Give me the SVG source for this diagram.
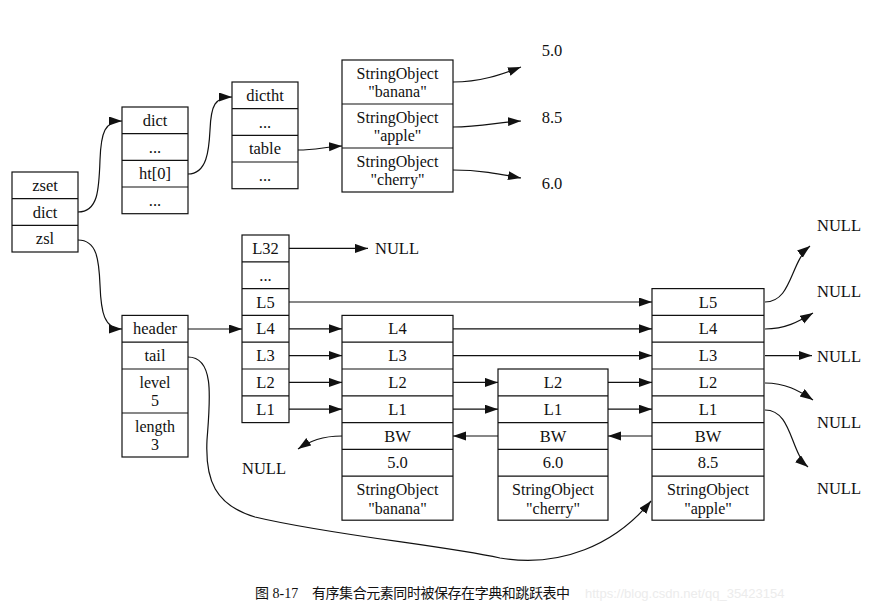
<svg xmlns="http://www.w3.org/2000/svg" width="884" height="601" viewBox="0 0 884 601">
<style>
.b{fill:#fff;stroke:#111;stroke-width:1.2}
text{font-family:"Liberation Serif","Times New Roman",serif;font-size:16.5px;text-anchor:middle;fill:#111}
.t{font-size:16px}
.l{text-anchor:start}
.e{fill:none;stroke:#111;stroke-width:1.2;marker-end:url(#ah)}
.cap{font-family:"Liberation Serif","Noto Sans CJK SC",serif;font-size:14px;text-anchor:start}
</style>
<defs>
<marker id="ah" markerWidth="14" markerHeight="10" refX="13" refY="4.5" orient="auto" markerUnits="userSpaceOnUse"><path d="M0,0 L13,4.5 L0,9 z" fill="#111"/></marker>
</defs>
<rect width="884" height="601" fill="#fff"/>

<g id="zset">
<rect class="b" x="12" y="172" width="66" height="80"/>
<line class="b" x1="12" y1="198.7" x2="78" y2="198.7"/><line class="b" x1="12" y1="225.3" x2="78" y2="225.3"/>
<text x="45" y="191">zset</text><text x="45" y="217.5">dict</text><text x="45" y="244">zsl</text>
</g>

<g id="dict">
<rect class="b" x="122" y="107" width="66" height="106.7"/>
<line class="b" x1="122" y1="133.7" x2="188" y2="133.7"/><line class="b" x1="122" y1="160.3" x2="188" y2="160.3"/><line class="b" x1="122" y1="187" x2="188" y2="187"/>
<text x="155" y="126">dict</text><text x="155" y="152.5">...</text><text x="155" y="179">ht[0]</text><text x="155" y="205.5">...</text>
</g>

<g id="dictht">
<rect class="b" x="232" y="82" width="66" height="106.7"/>
<line class="b" x1="232" y1="108.7" x2="298" y2="108.7"/><line class="b" x1="232" y1="135.3" x2="298" y2="135.3"/><line class="b" x1="232" y1="162" x2="298" y2="162"/>
<text x="265" y="101">dictht</text><text x="265" y="127.5">...</text><text x="265" y="154">table</text><text x="265" y="180.5">...</text>
</g>

<g id="dictEntries">
<rect class="b" x="342" y="60" width="111" height="132"/>
<line class="b" x1="342" y1="104" x2="453" y2="104"/><line class="b" x1="342" y1="148" x2="453" y2="148"/>
<text class="t" x="397.5" y="78.5">StringObject</text><text class="t" x="397.5" y="97">"banana"</text>
<text class="t" x="397.5" y="122.5">StringObject</text><text class="t" x="397.5" y="141">"apple"</text>
<text class="t" x="397.5" y="166.5">StringObject</text><text class="t" x="397.5" y="185">"cherry"</text>
</g>

<g id="scores">
<text x="552" y="56">5.0</text><text x="552" y="123">8.5</text><text x="552" y="189">6.0</text>
</g>

<g id="zskiplist">
<rect class="b" x="122" y="315.4" width="66" height="141.6"/>
<line class="b" x1="122" y1="342.2" x2="188" y2="342.2"/><line class="b" x1="122" y1="369" x2="188" y2="369"/><line class="b" x1="122" y1="413" x2="188" y2="413"/>
<text x="155" y="334.3">header</text><text x="155" y="361">tail</text>
<text class="t" x="155" y="387.5">level</text><text class="t" x="155" y="406">5</text>
<text class="t" x="155" y="431.5">length</text><text class="t" x="155" y="450">3</text>
</g>

<g id="headerNode">
<rect class="b" x="242" y="235" width="47" height="187.6"/>
<line class="b" x1="242" y1="261.8" x2="289" y2="261.8"/><line class="b" x1="242" y1="288.6" x2="289" y2="288.6"/><line class="b" x1="242" y1="315.4" x2="289" y2="315.4"/><line class="b" x1="242" y1="342.2" x2="289" y2="342.2"/><line class="b" x1="242" y1="369" x2="289" y2="369"/><line class="b" x1="242" y1="395.8" x2="289" y2="395.8"/>
<text x="265.5" y="254">L32</text><text x="265.5" y="280.5">...</text><text x="265.5" y="307.5">L5</text><text x="265.5" y="334.3">L4</text><text x="265.5" y="361">L3</text><text x="265.5" y="388">L2</text><text x="265.5" y="414.7">L1</text>
</g>

<g id="nodeBanana">
<rect class="b" x="342" y="315.4" width="111" height="204.8"/>
<line class="b" x1="342" y1="342.2" x2="453" y2="342.2"/><line class="b" x1="342" y1="369" x2="453" y2="369"/><line class="b" x1="342" y1="395.8" x2="453" y2="395.8"/><line class="b" x1="342" y1="422.6" x2="453" y2="422.6"/><line class="b" x1="342" y1="449.4" x2="453" y2="449.4"/><line class="b" x1="342" y1="476.2" x2="453" y2="476.2"/>
<text x="397.5" y="334.3">L4</text><text x="397.5" y="361">L3</text><text x="397.5" y="388">L2</text><text x="397.5" y="414.7">L1</text><text x="397.5" y="441.5">BW</text><text x="397.5" y="468.3">5.0</text>
<text class="t" x="397.5" y="495">StringObject</text><text class="t" x="397.5" y="513.5">"banana"</text>
</g>

<g id="nodeCherry">
<rect class="b" x="498" y="369" width="110" height="151.2"/>
<line class="b" x1="498" y1="395.8" x2="608" y2="395.8"/><line class="b" x1="498" y1="422.6" x2="608" y2="422.6"/><line class="b" x1="498" y1="449.4" x2="608" y2="449.4"/><line class="b" x1="498" y1="476.2" x2="608" y2="476.2"/>
<text x="553" y="388">L2</text><text x="553" y="414.7">L1</text><text x="553" y="441.5">BW</text><text x="553" y="468.3">6.0</text>
<text class="t" x="553" y="495">StringObject</text><text class="t" x="553" y="513.5">"cherry"</text>
</g>

<g id="nodeApple">
<rect class="b" x="652" y="288.6" width="112" height="231.6"/>
<line class="b" x1="652" y1="315.4" x2="764" y2="315.4"/><line class="b" x1="652" y1="342.2" x2="764" y2="342.2"/><line class="b" x1="652" y1="369" x2="764" y2="369"/><line class="b" x1="652" y1="395.8" x2="764" y2="395.8"/><line class="b" x1="652" y1="422.6" x2="764" y2="422.6"/><line class="b" x1="652" y1="449.4" x2="764" y2="449.4"/><line class="b" x1="652" y1="476.2" x2="764" y2="476.2"/>
<text x="708" y="307.5">L5</text><text x="708" y="334.3">L4</text><text x="708" y="361">L3</text><text x="708" y="388">L2</text><text x="708" y="414.7">L1</text><text x="708" y="441.5">BW</text><text x="708" y="468.3">8.5</text>
<text class="t" x="708" y="495">StringObject</text><text class="t" x="708" y="513.5">"apple"</text>
</g>

<g id="nulls">
<text class="l" x="375" y="254">NULL</text>
<text class="l" x="242" y="474">NULL</text>
<text class="l" x="817" y="231">NULL</text>
<text class="l" x="817" y="297">NULL</text>
<text class="l" x="817" y="362">NULL</text>
<text class="l" x="817" y="428">NULL</text>
<text class="l" x="817" y="494">NULL</text>
</g>

<g id="connectors">
<path class="e" d="M78,212 C98,212 99,190 100,160 C101,132 105,121 122,121"/>
<path class="e" d="M188,174 C207,174 209,150 210,130 C211,105 215,97 232,97"/>
<path class="e" d="M298,150 C315,150 325,147 342,146"/>
<path class="e" d="M453,82 C480,82 500,75 521,67"/>
<path class="e" d="M453,127 C480,127 500,122 521,121"/>
<path class="e" d="M453,170 C480,170 500,174 521,178"/>
<path class="e" d="M78,240 C97,240 99,260 100,285 C101,312 104,329 122,329"/>
<path class="e" d="M188,329 L242,329"/>
<path class="e" d="M289,248.4 L368,248.4"/>
<path class="e" d="M289,302 L652,302"/>
<path class="e" d="M289,328.8 L342,328.8"/>
<path class="e" d="M453,328.8 L652,328.8"/>
<path class="e" d="M289,355.6 L342,355.6"/>
<path class="e" d="M453,355.6 L652,355.6"/>
<path class="e" d="M289,382.4 L342,382.4"/>
<path class="e" d="M453,382.4 L498,382.4"/>
<path class="e" d="M608,382.4 L652,382.4"/>
<path class="e" d="M289,409.2 L342,409.2"/>
<path class="e" d="M453,409.2 L498,409.2"/>
<path class="e" d="M608,409.2 L652,409.2"/>
<path class="e" d="M342,436 C322,436 310,441 298,449"/>
<path class="e" d="M498,436 L453,436"/>
<path class="e" d="M652,436 L608,436"/>
<path class="e" d="M765,302 C792,302 790,262 810,246"/>
<path class="e" d="M765,329 C785,329 798,322 813,313"/>
<path class="e" d="M765,355.6 L812,355.6"/>
<path class="e" d="M765,383 C785,383 798,390 813,400"/>
<path class="e" d="M765,410 C792,410 790,452 808,467"/>
<path class="e" d="M188,357 C215,357 210,400 207,440 C205,480 215,505 255,517 C330,535 440,545 500,558 C560,568 615,545 651,501"/>
</g>

<g id="caption">
<text class="cap" x="255" y="598">图 8-17</text>
<text class="cap" x="312" y="598" textLength="258">有序集合元素同时被保存在字典和跳跃表中</text>
<text class="cap" x="585" y="598" style="fill:#ececec;font-family:'Liberation Sans',sans-serif;font-size:13px">https://blog.csdn.net/qq_35423154</text>
</g>
</svg>
